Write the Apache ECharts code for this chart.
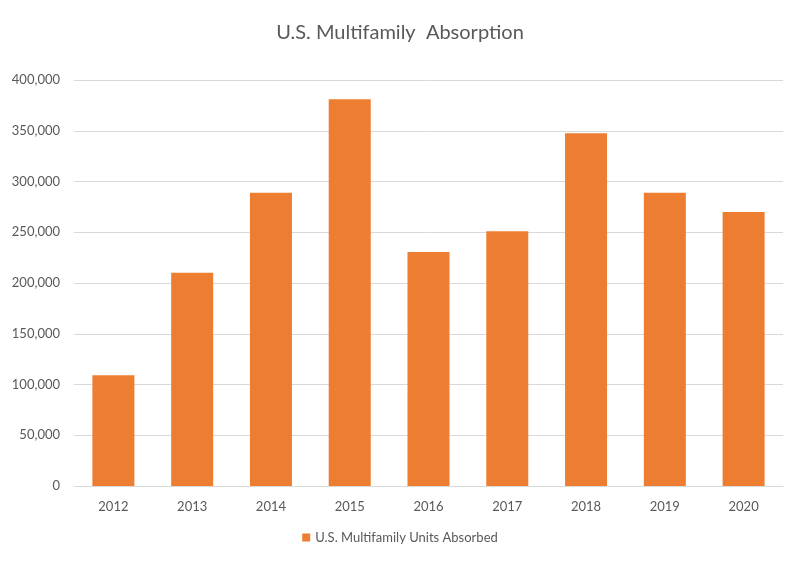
<!DOCTYPE html>
<html>
<head>
<meta charset="utf-8">
<script src="https://cdn.jsdelivr.net/npm/echarts@6/dist/echarts.min.js"></script>
<style>
  html, body { margin: 0; padding: 0; background: #fff; }
  #chart { width: 800px; height: 562px; }
</style>
</head>
<body>
<div id="chart"></div>
<script>
// data
const years = ['2012', '2013', '2014', '2015', '2016', '2017', '2018', '2019', '2020'];
const unitsAbsorbed = [109000, 210000, 289000, 381000, 230500, 251000, 347500, 289000, 270000];
const seriesName = 'U.S. Multifamily Units Absorbed';

const chart = echarts.init(document.getElementById('chart'));
const textColor = '#595959';
const font = 'Lato, "Open Sans", sans-serif';

chart.setOption({
    animation: false,
    title: {
        text: 'U.S. Multifamily  Absorption',
        left: 'center',
        top: 18,
        textStyle: { fontFamily: font, fontSize: 20, fontWeight: 'normal', color: textColor }
    },
    grid: { left: 74, right: 17, top: 80, bottom: 76, containLabel: false },
    legend: {
        data: [seriesName],
        bottom: 13,
        left: 'center',
        icon: 'rect',
        itemWidth: 8,
        itemHeight: 8,
        itemGap: 6,
        textStyle: { fontFamily: font, fontSize: 13, color: textColor }
    },
    xAxis: {
        type: 'category',
        data: years,
        axisLine: { lineStyle: { color: '#d9d9d9' } },
        axisTick: { show: false },
        axisLabel: { fontFamily: font, fontSize: 13, color: textColor, margin: 14 }
    },
    yAxis: {
        type: 'value',
        min: 0,
        max: 400000,
        interval: 50000,
        axisLine: { show: false },
        axisTick: { show: false },
        splitLine: { lineStyle: { color: '#d9d9d9' } },
        axisLabel: {
            fontFamily: font, fontSize: 13, color: textColor, margin: 14,
            formatter: v => v.toLocaleString('en-US')
        }
    },
    series: [{
        name: seriesName,
        type: 'bar',
        data: unitsAbsorbed,
        barWidth: 42,
        itemStyle: { color: '#ED7D31' }
    }]
});
</script>
</body>
</html>
